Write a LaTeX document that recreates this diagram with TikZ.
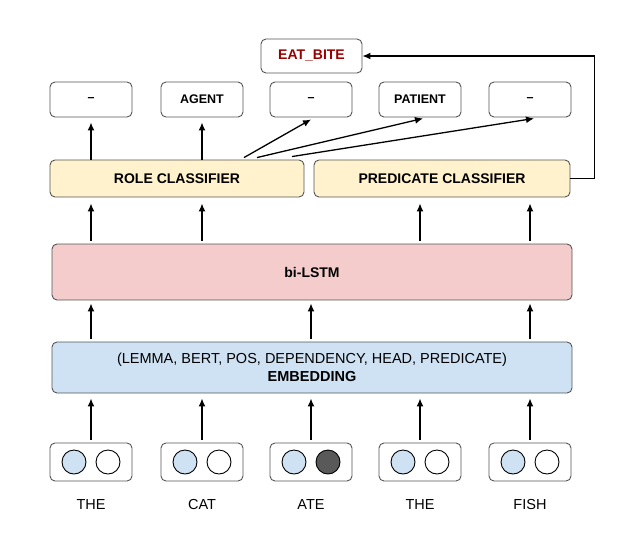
\documentclass[tikz,border=0pt]{standalone}
\usepackage{fontspec}
\setmainfont{Liberation Sans}
\usetikzlibrary{arrows.meta}
\definecolor{yel}{HTML}{FFF2CC}
\definecolor{pnk}{HTML}{F4CCCC}
\definecolor{blu}{HTML}{CFE2F3}
\definecolor{drk}{HTML}{990000}
\definecolor{bord}{HTML}{555555}
\begin{document}
\begin{tikzpicture}[x=1pt,y=-1pt,
  box/.style={draw=bord,line width=0.9pt,rounded corners=5pt,inner sep=0pt,font=\bfseries\fontsize{12.5}{14}\selectfont},
  obox/.style={box,fill=white,minimum width=82pt,minimum height=35pt},
  arr/.style={-{Latex[length=8pt,width=7pt]},line width=1.3pt},
  circ/.style={draw=black,line width=0.9pt,circle,minimum size=24pt,inner sep=0pt},
  lab/.style={anchor=base,font=\fontsize{14.5}{16}\selectfont}]
\useasboundingbox (0,0) rectangle (640,542);
\node[box,fill=white,minimum width=101pt,minimum height=34pt,text=drk,font=\bfseries\fontsize{14}{16}\selectfont] (eat) at (311.5,56) {EAT\_BITE};
\foreach \i/\x/\t in {1/91/--,2/202/AGENT,3/311/--,4/420/PATIENT,5/530/--}{
  \node[obox] (o\i) at (\x,99.5) {\t};
  \node[box,fill=white,minimum width=82pt,minimum height=38pt] (t\i) at (\x,462) {};
  \node[circ,fill=blu] (a\i) at (\x-17,462) {};
}
\node[circ,fill=white] (b1) at (108,462) {};
\node[circ,fill=white] (b2) at (219,462) {};
\node[circ,fill=black!65] (b3) at (328,462) {};
\node[circ,fill=white] (b4) at (437,462) {};
\node[circ,fill=white] (b5) at (547,462) {};
\node[lab] (l1) at (91,509) {THE};
\node[lab] (l2) at (202,509) {CAT};
\node[lab] (l3) at (311,509) {ATE};
\node[lab] (l4) at (420,509) {THE};
\node[lab] (l5) at (530,509) {FISH};
\node[box,fill=yel,minimum width=254pt,minimum height=37pt,font=\bfseries\fontsize{14}{16}\selectfont] (role) at (177,178.5) {ROLE CLASSIFIER};
\node[box,fill=yel,minimum width=256pt,minimum height=37pt,font=\bfseries\fontsize{14}{16}\selectfont] (pred) at (442,178.5) {PREDICATE CLASSIFIER};
\node[box,fill=pnk,minimum width=520pt,minimum height=56pt,font=\bfseries\fontsize{14}{16}\selectfont] (lstm) at (312,272) {bi-LSTM};
\node[box,fill=blu,minimum width=520pt,minimum height=51pt,align=center,font=\fontsize{14.5}{18}\selectfont] (emb) at (312,367.5) {(LEMMA, BERT, POS, DEPENDENCY, HEAD, PREDICATE)\\\textbf{EMBEDDING}};
% arrows
\foreach \i in {1,...,5}{\draw[arr] ([yshift=3pt]t\i.north) -- ([yshift=-5pt]emb.south -| t\i);}
\foreach \i in {1,3,5}{\draw[arr] ([yshift=3pt]emb.north -| t\i) -- ([yshift=-3pt]lstm.south -| t\i);}
\foreach \i in {1,2,4,5}{\draw[arr] ([yshift=3pt]lstm.north -| t\i) -- ([yshift=-6pt]role.south -| t\i);}
\draw[arr] (role.north -| o1) -- ([yshift=-5pt]o1.south);
\draw[arr] (role.north -| o2) -- ([yshift=-5pt]o2.south);
\draw[arr] ([xshift=67pt,yshift=2pt]role.north) -- ([yshift=-2pt]o3.south);
\draw[arr] ([xshift=80pt,yshift=2pt]role.north) -- ([xshift=3pt,yshift=-1pt]o4.south);
\draw[arr] ([xshift=115pt,yshift=3pt]role.north) -- ([xshift=4pt,yshift=-1pt]o5.south);
\draw[arr] (pred.east) -- ++(24,0) |- (eat.east);
\end{tikzpicture}
\end{document}
